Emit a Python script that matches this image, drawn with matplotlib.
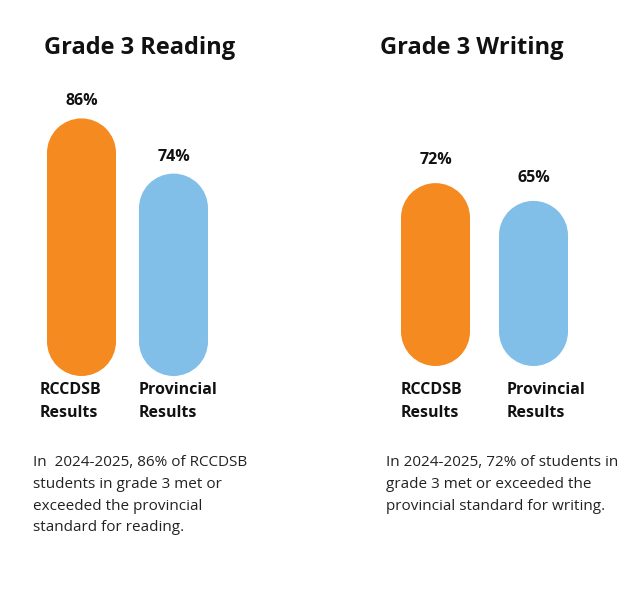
import matplotlib.pyplot as plt
from matplotlib.patches import Rectangle, Ellipse

plt.rcParams['font.family'] = ['Open Sans', 'DejaVu Sans']

# data
categorias = ["RCCDSB\nResults", "Provincial\nResults"]
titulos = ["Grade 3 Reading", "Grade 3 Writing"]
leitura = [86, 74]
escrita = [72, 65]
textos = ["In  2024-2025, 86% of RCCDSB\nstudents in grade 3 met or\nexceeded the provincial\nstandard for reading.",
          "In 2024-2025, 72% of students in\ngrade 3 met or exceeded the\nprovincial standard for writing."]

cores = ["#F58A20", "#82BFE8"]
W, H = 639, 592

fig = plt.figure(figsize=(W/100, H/100), dpi=100)

# layout de cada painel (pixels): centro da 1a barra, espaco entre barras,
# base das barras (px a partir do topo), px por %, valor da base
paineis = [
    dict(x0=81.5, passo=92, fundo=376, escala=4.6, base=30, dy=9, xt=44,
         xlab=[40, 139], xp=33),
    dict(x0=435.5, passo=98, fundo=366, escala=2.54, base=0, dy=15, xt=380,
         xlab=[401, 507], xp=386),
]
largura = 69  # px

def pilula(ax, x, y0, y1, w, ry, cor):
    ''' barra com pontas arredondadas (semicirculos) '''
    ax.add_patch(Rectangle((x - w/2, y0 + ry), w, (y1 - y0) - 2*ry, fc=cor, ec='none'))
    ax.add_patch(Ellipse((x, y1 - ry), w, 2*ry, fc=cor, ec='none'))
    ax.add_patch(Ellipse((x, y0 + ry), w, 2*ry, fc=cor, ec='none'))

for k, (vals, p) in enumerate(zip([leitura, escrita], paineis)):
    ax = fig.add_axes([0, 0, 1, 1])
    ax.axis('off')
    ux = 1/p['passo']
    yb = H - p['fundo']
    ax.set_xlim(-p['x0']*ux, (W - p['x0'])*ux)
    ax.set_ylim(p['base'] - yb/p['escala'], p['base'] + (H - yb)/p['escala'])
    w = largura*ux
    ry = (largura/2)/p['escala']
    for i, v in enumerate(vals):
        pilula(ax, i, p['base'], v, w, ry, cores[i])
        ax.annotate("%d%%" % v, (i, v), xytext=(0, p['dy']*0.72),
                    textcoords='offset points', ha='center', va='bottom',
                    fontsize=11.5, fontweight='bold', color='#111111')
        fig.text(p['xlab'][i]/W, 1 - 382/H, categorias[i], ha='left', va='top',
                 fontsize=11.5, fontweight='bold', color='#111111', linespacing=1.55)
    fig.text(p['xt']/W, 1 - 48/H, titulos[k], ha='left', va='center',
             fontsize=17, fontweight='bold', color='#111111')
    fig.text(p['xp']/W, 1 - 455/H, textos[k], ha='left', va='top',
             fontsize=11, color='#222222', linespacing=1.62)

fig.savefig("out.png", dpi=100, facecolor='white')
